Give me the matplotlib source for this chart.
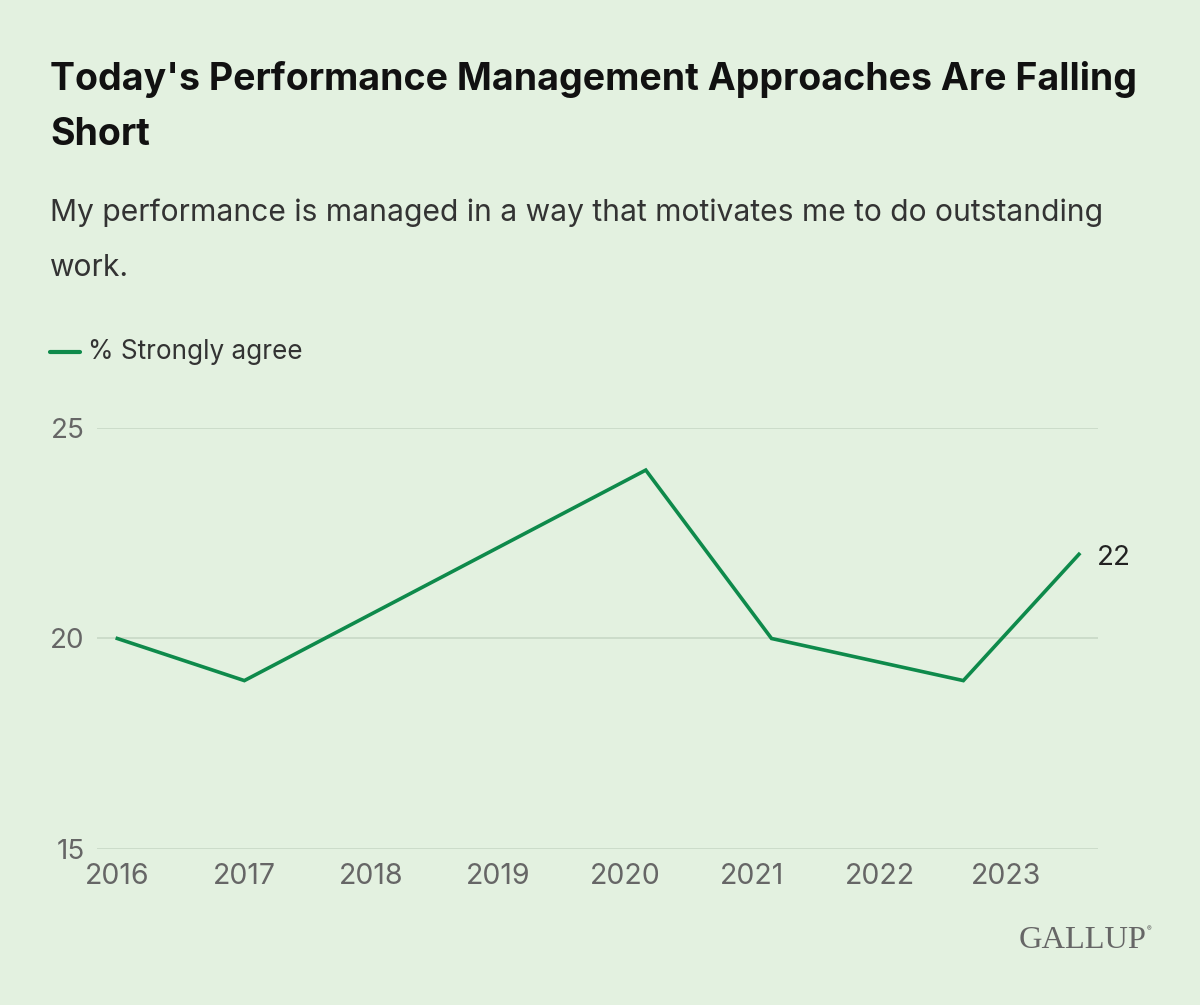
import matplotlib.pyplot as plt
from matplotlib.lines import Line2D

# Data (fractional survey dates, % strongly agree)
survey_dates = [2016.0, 2017.0, 2020.16, 2021.15, 2022.66, 2023.57]
strongly_agree = [20, 19, 24, 20, 19, 22]
year_ticks = [2016, 2017, 2018, 2019, 2020, 2021, 2022, 2023]
y_ticks = [15, 20, 25]

BG = '#e3f1e0'
GREEN = '#0e8a4b'
GRID = '#c8d8c6'
TEXT = '#222222'
TICK = '#666666'

plt.rcParams['font.family'] = ['Inter', 'DejaVu Sans']

W, H = 1200, 1005
fig = plt.figure(figsize=(W / 100, H / 100), dpi=100, facecolor=BG)


def fx(px):
    return px / W


def fy(py):
    return 1 - py / H


# Title and subtitle
fig.text(fx(50), fy(80), "Today's Performance Management Approaches Are Falling",
         fontsize=27, fontweight='bold', color='#111111', va='center', ha='left')
fig.text(fx(50), fy(135), "Short",
         fontsize=27, fontweight='bold', color='#111111', va='center', ha='left')
fig.text(fx(50), fy(213), "My performance is managed in a way that motivates me to do outstanding",
         fontsize=21.6, color='#333333', va='center', ha='left')
fig.text(fx(50), fy(268), "work.",
         fontsize=21.6, color='#333333', va='center', ha='left')

# Legend
fig.add_artist(Line2D([fx(50), fx(80)], [fy(352), fy(352)], color=GREEN,
                      linewidth=3, solid_capstyle='round'))
fig.text(fx(88), fy(352), "% Strongly agree", fontsize=18.8, color='#333333',
         va='center', ha='left')

# Chart
ax = fig.add_axes([fx(97), fy(849), fx(1098) - fx(97), fy(428) - fy(849)])
ax.set_facecolor(BG)
ax.plot(survey_dates, strongly_agree, color=GREEN, linewidth=2.6,
        solid_joinstyle='miter', clip_on=False)

ax.set_xlim(2015.84, 2023.72)
ax.set_ylim(15, 25)
ax.set_yticks(y_ticks)
ax.set_xticks(year_ticks)
ax.set_xticklabels([str(y) for y in year_ticks])
ax.grid(axis='y', color=GRID, linewidth=1.2)
ax.tick_params(axis='y', length=0, pad=9, labelsize=20, labelcolor=TICK)
ax.tick_params(axis='x', length=0, pad=10, labelsize=20.5, labelcolor=TICK)
for s in ax.spines.values():
    s.set_visible(False)
ax.set_axisbelow(True)

# End label
ax.annotate(str(strongly_agree[-1]), (survey_dates[-1], strongly_agree[-1]),
            xytext=(13, -3), textcoords='offset points', fontsize=20,
            color=TEXT, va='center', ha='left', annotation_clip=False)

# Gallup wordmark
fig.text(fx(1146), fy(940), "GALLUP", family='Liberation Serif', fontsize=23.4,
         color='#666666', ha='right', va='center')
fig.text(fx(1147), fy(929), "®", fontsize=5, color='#666666', ha='left', va='center')

fig.savefig('out.png', dpi=100, facecolor=BG)
